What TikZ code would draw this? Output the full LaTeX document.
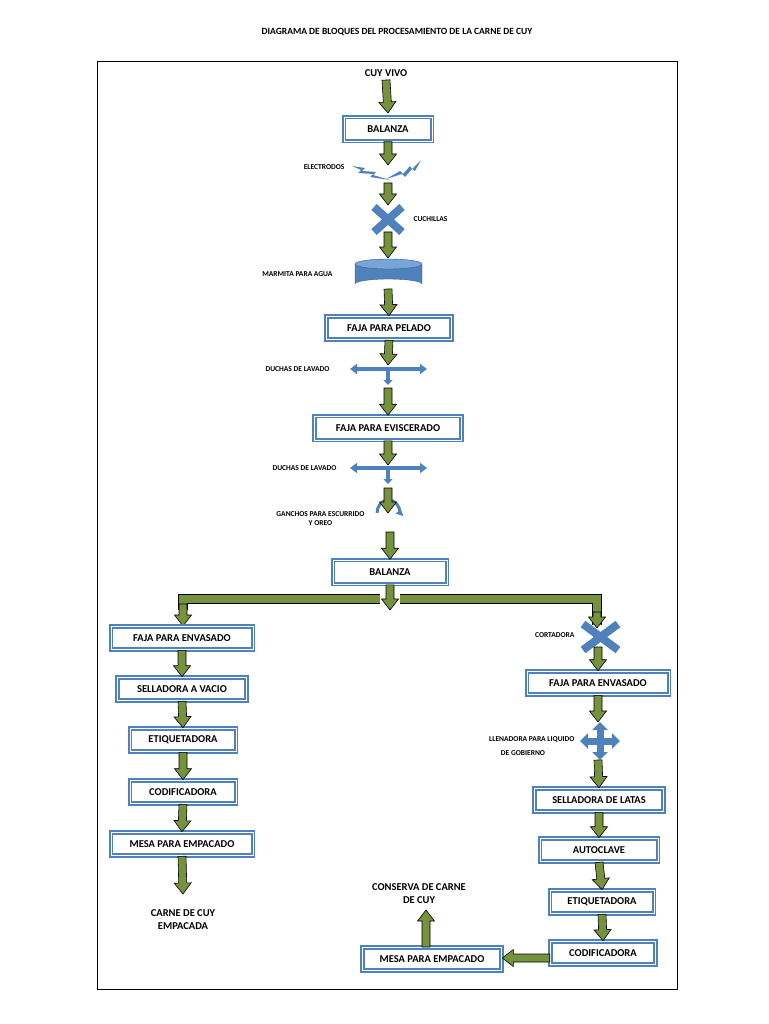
\documentclass[tikz,border=0pt]{standalone}
\usepackage{fontspec}
\setmainfont{Carlito}
\usetikzlibrary{calc,arrows.meta}

\definecolor{flowgreen}{RGB}{118,146,60}
\definecolor{boxblue}{RGB}{79,129,189}
\definecolor{lightblue}{RGB}{120,165,215}

\tikzset{
  box/.style={draw=boxblue,line width=1.6pt,double=white,double distance=0.9pt,fill=white,
    font=\fontsize{10.5}{12}\selectfont\bfseries,inner sep=0pt},
  lbl/.style={font=\fontsize{7.5}{9}\selectfont\bfseries,align=center},
  big/.style={font=\fontsize{10.5}{13}\selectfont\bfseries,align=center},
  garrow/.style={draw=black,fill=flowgreen,line width=0.6pt,line join=miter},
  icon/.style={fill=boxblue,draw=none},
}

% fat green arrow from #1 to #2
\newcommand\flow[2]{%
  \path let \p1=($(#2)-(#1)$) in \pgfextra{%
    \pgfmathsetmacro\fang{atan2(\y1,\x1)}\pgfmathsetmacro\flen{veclen(\x1,\y1)}%
    \xdef\fang{\fang}\xdef\flen{\flen}};
  \begin{scope}[shift={(#1)},rotate=\fang]
    \draw[garrow] (0pt,-4pt) -- (\flen pt-11pt,-4pt) -- (\flen pt-11pt,-8.5pt) -- (\flen pt,0pt)
      -- (\flen pt-11pt,8.5pt) -- (\flen pt-11pt,4pt) -- (0pt,4pt) -- cycle;
  \end{scope}}

% thick green bend
\newcommand\bend[1]{%
  \draw[line width=9.2pt,black,line join=miter] #1;
  \draw[line width=8pt,flowgreen,line join=miter] #1;}

\begin{document}
\begin{tikzpicture}[x=1pt,y=-1pt]
\useasboundingbox (0,0) rectangle (768,1024);
\draw[line width=0.8pt] (97,61) rectangle (677,989);
\node[font=\fontsize{9.5}{11}\selectfont\bfseries] (title) at (397,32) {DIAGRAMA DE BLOQUES DEL PROCESAMIENTO DE LA CARNE DE CUY};

% main line
\node[big] (vivo) at (386,73) {CUY VIVO};
\node[box,minimum width=88,minimum height=24] (bal1) at (388,129) {BALANZA};
\node[lbl,anchor=east] (electlbl) at (348,167) {ELECTRODOS};
\fill[boxblue] (352,166) -- (365,168) -- (362,171) -- (376,172) -- (373,175) -- (390,180)
  -- (370,177) -- (373,174) -- (358,173) -- (361,170) -- cycle;
\fill[boxblue] (386,179) -- (400,171) -- (403,174) -- (410,166) -- (412,169) -- (421,160)
  -- (415,171) -- (412,169) -- (405,177) -- (402,174) -- cycle;
\coordinate (elec) at (388,172);
\draw[boxblue,line width=8pt] (374,207) -- (402,232) (402,207) -- (374,232);
\coordinate (cuch) at (388,219);
\node[lbl,anchor=west] (cuchlbl) at (410,219) {CUCHILLAS};
\fill[boxblue,draw=boxblue!70!black,line width=0.4pt] (355,264) -- (355,284) arc[start angle=180,end angle=360,x radius=33.5,y radius=5] -- (422,264) -- cycle;
\fill[lightblue,draw=boxblue!70!black,line width=0.4pt] (388.5,264) ellipse[x radius=33.5,y radius=5];
\coordinate (marm) at (388,274);
\node[lbl,anchor=east] (marmlbl) at (336,274) {MARMITA PARA AGUA};
\node[box,minimum width=125,minimum height=23] (pel) at (389,328) {FAJA PARA PELADO};
\node[lbl,anchor=east] (ducha1lbl) at (333,369) {DUCHAS DE LAVADO};
\draw[boxblue,line width=3.5pt,{Triangle[length=7pt,width=10pt]}-{Triangle[length=7pt,width=10pt]}] (350,369) -- (427,369);
\draw[boxblue,line width=3.5pt,-{Triangle[length=5pt,width=9pt]}] (388,369) -- (388,385);
\coordinate (ducha1) at (388,369);
\node[box,minimum width=147,minimum height=24] (evis) at (388,428) {FAJA PARA EVISCERADO};
\node[lbl,anchor=east] (ducha2lbl) at (340,468) {DUCHAS DE LAVADO};
\draw[boxblue,line width=3.5pt,{Triangle[length=7pt,width=10pt]}-{Triangle[length=7pt,width=10pt]}] (350,468) -- (427,468);
\draw[boxblue,line width=3.5pt,-{Triangle[length=5pt,width=9pt]}] (388,468) -- (388,484);
\coordinate (ducha2) at (388,468);
\node[lbl,anchor=east] (ganclbl) at (368,519) {GANCHOS PARA ESCURRIDO\\Y OREO};
\draw[boxblue,line width=3pt,-{Triangle[length=5pt,width=8pt]}] (377,513) arc[start angle=180,end angle=360,x radius=11.5,y radius=13] -- ++(1,-3);
\coordinate (ganc) at (388,520);
\node[box,minimum width=114,minimum height=24] (bal2) at (390,572) {BALANZA};

\flow{vivo.south}{388,113}
\flow{bal1.south}{388,165}
\flow{388,183}{388,205}
\flow{388,232}{388,258}
\flow{marm |- 0,289}{pel.north}
\flow{pel.south}{388,365}
\flow{388,388}{evis.north}
\flow{evis.south}{388,465}
\flow{388,488}{388,513}
\flow{390,532}{bal2.north}
\flow{bal2.south}{390,610}

% branches
\bend{(380,599) -- (183,599) -- (183,610)}
\bend{(400,599) -- (597,599) -- (597,625)}
\flow{183,604}{183,626}
\flow{597,612}{597,628}

% left column
\node[box,minimum width=142,minimum height=23] (envL) at (182,638) {FAJA PARA ENVASADO};
\node[box,minimum width=129,minimum height=23] (sell) at (182,689) {SELLADORA A VACIO};
\node[box,minimum width=106,minimum height=23] (etiL) at (183,740) {ETIQUETADORA};
\node[box,minimum width=106,minimum height=23] (codL) at (183,792) {CODIFICADORA};
\node[box,minimum width=142,minimum height=23] (mesaL) at (182,844) {MESA PARA EMPACADO};
\node[big] (carne) at (183,920) {CARNE DE CUY\\EMPACADA};
\flow{envL.south}{sell.north}
\flow{sell.south}{etiL.north}
\flow{etiL.south}{codL.north}
\flow{codL.south}{mesaL.north}
\flow{mesaL.south}{183,894}

% right column
\draw[boxblue,line width=8pt] (583,624) -- (618,650) (618,624) -- (583,650);
\coordinate (cort) at (600,637);
\node[lbl,anchor=east] (cortlbl) at (578,635) {CORTADORA};
\node[box,minimum width=142,minimum height=23] (envR) at (598,683) {FAJA PARA ENVASADO};
\draw[boxblue,line width=7pt,{Triangle[length=8pt,width=15pt]}-{Triangle[length=8pt,width=15pt]}] (580,741) -- (620,741);
\draw[boxblue,line width=7pt,{Triangle[length=8pt,width=15pt]}-{Triangle[length=8pt,width=15pt]}] (600,722) -- (600,760);
\coordinate (llen) at (600,741);
\node[lbl,anchor=east] (llenlbl) at (578,740) {LLENADORA PARA LIQUIDO};
\node[lbl] (llenlbl2) at (523,753) {DE GOBIERNO};
\node[box,minimum width=129,minimum height=23] (sellR) at (599,800) {SELLADORA DE LATAS};
\node[box,minimum width=118,minimum height=23] (auto) at (599,850) {AUTOCLAVE};
\node[box,minimum width=104,minimum height=23] (etiR) at (602,902) {ETIQUETADORA};
\node[box,minimum width=105,minimum height=23] (codR) at (603,953) {CODIFICADORA};
\node[box,minimum width=139,minimum height=23] (mesaR) at (432,959) {MESA PARA EMPACADO};
\node[big] (conserva) at (419,894) {CONSERVA DE CARNE\\DE CUY};
\flow{598,647}{envR.north}
\flow{envR.south}{598,722}
\flow{598,760}{sellR.north}
\flow{sellR.south}{auto.north}
\flow{auto.south}{etiR.north}
\flow{etiR.south}{codR.north}
\flow{codR.west |- 0,958}{mesaR.east |- 0,958}
\flow{426,947}{426,910}
\end{tikzpicture}
\end{document}
